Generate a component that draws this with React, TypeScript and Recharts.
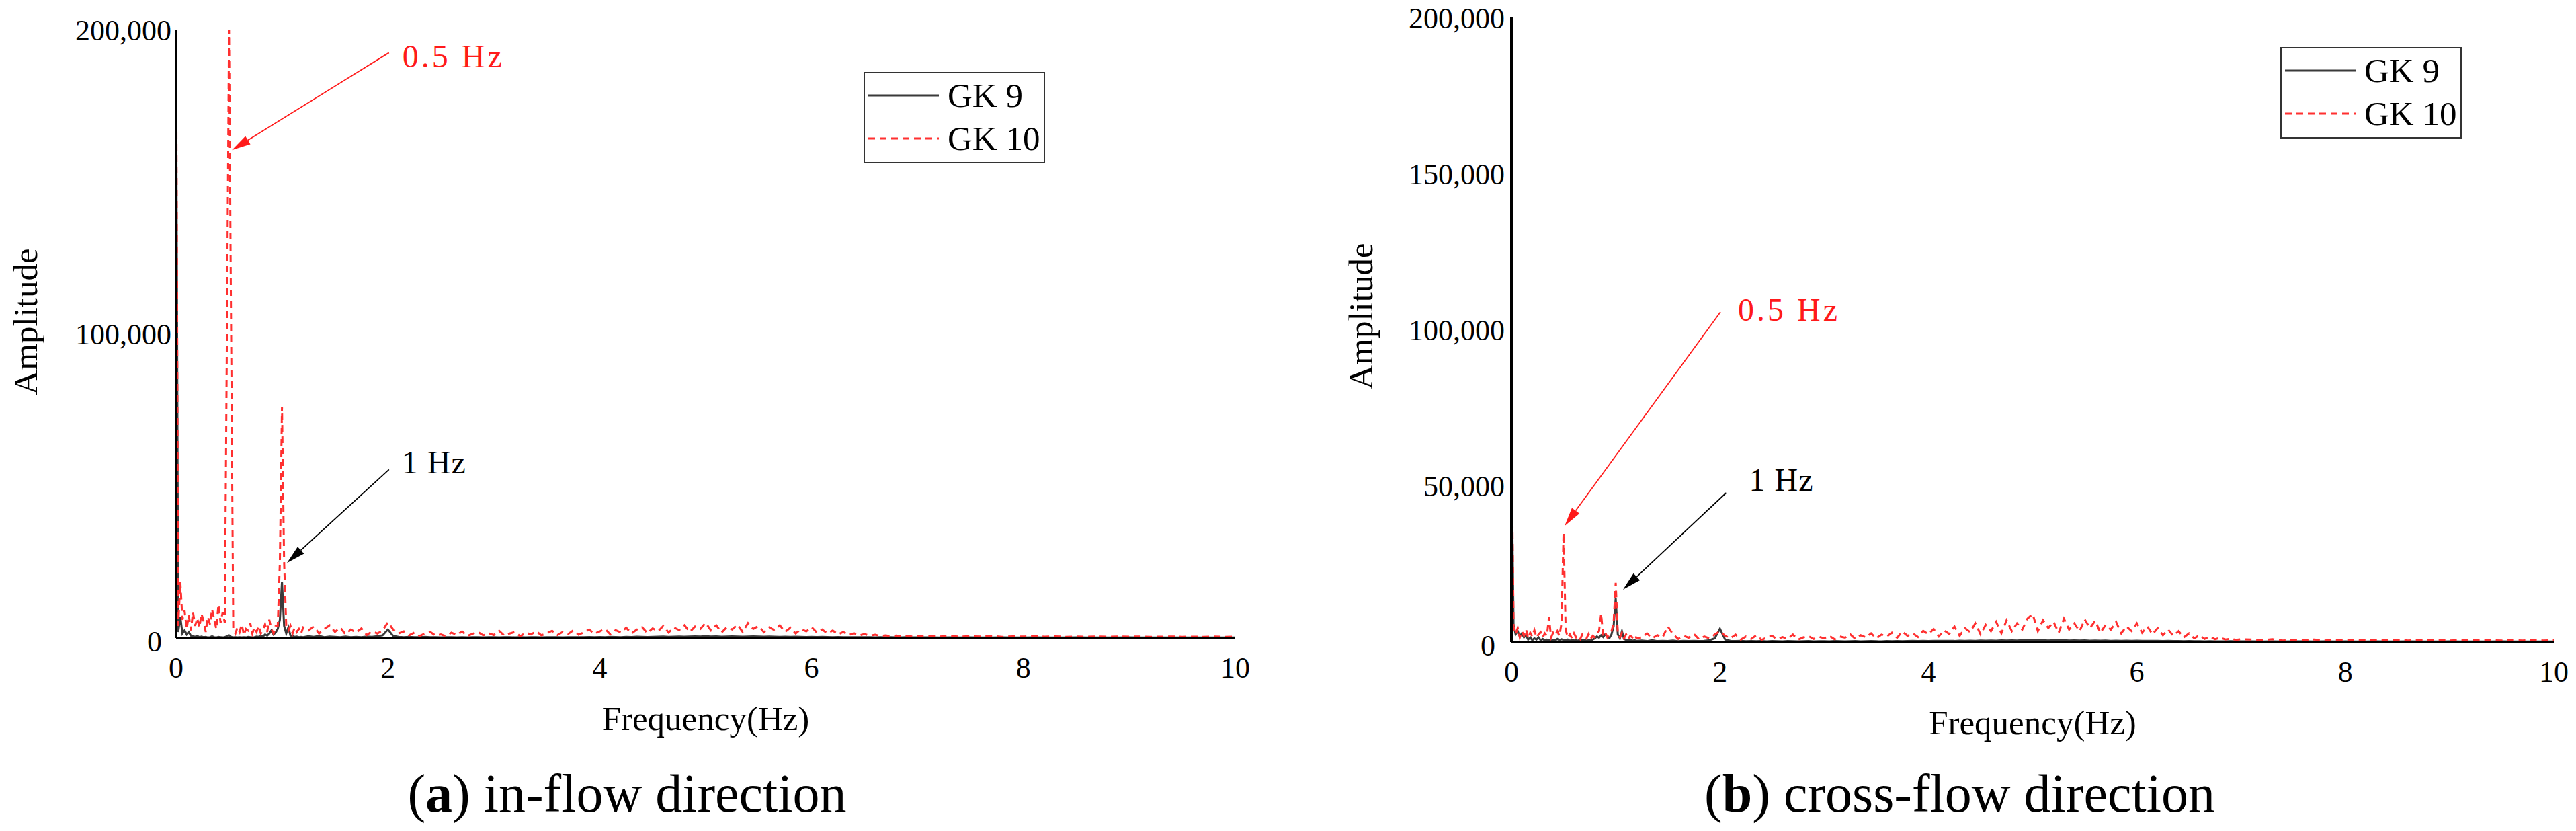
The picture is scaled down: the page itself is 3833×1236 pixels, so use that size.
import { LineChart, Line, XAxis, YAxis, Legend, ReferenceLine } from 'recharts';

const FONT = '"Liberation Serif", "Times New Roman", serif';

// frequency grid (Hz): finer near the low-frequency peaks, coarser at the tail
const grid = (start: number, step: number, count: number) =>
  Array.from({ length: count }, (_, i) => Math.round((start + i * step) * 100) / 100);
const freqLow = grid(0, 0.02, 61); // 0 .. 1.2
const freqMid = grid(1.25, 0.05, 116); // 1.25 .. 7.0
const freqHigh = grid(7.1, 0.1, 30); // 7.1 .. 10
const frequencies = [...freqLow, ...freqMid, ...freqHigh];

const xTicks = [0, 2, 4, 6, 8, 10];
const inflowTicks = [0, 100000, 200000];
const crossTicks = [0, 50000, 100000, 150000, 200000];

// (a) in-flow direction
const inflowGK9Low = [
  190000, 2000, 7000, 1500, 2500, 1200, 2000, 800, 600, 400,
  700, 300, 500, 300, 400, 200, 300, 600, 300, 200,
  400, 300, 200, 300, 600, 900, 400, 200, 300, 200,
  300, 200, 300, 200, 400, 300, 200, 300, 500, 400,
  700, 500, 1200, 800, 1500, 2500, 1200, 1800, 3000, 6000,
  18500, 4000, 1500, 3500, 800, 600, 400, 500, 300, 400,
  300,
];
const inflowGK9Mid = [
  600, 400, 700, 300, 500, 400, 300, 500, 300, 400, 300, 500, 400, 600, 900,
  2800,
  700, 400, 300, 400, 250, 300, 400, 250, 300, 200, 300, 250, 200, 300, 200, 250, 300, 200, 250,
  300, 200, 250, 300, 200, 250, 200, 300, 250, 200, 300, 250, 300, 200, 250, 300, 250, 300, 350, 300,
  350, 300, 400, 350, 300, 400, 350, 450, 400, 350, 400, 450, 500, 400, 450, 500, 450, 500, 550, 500,
  600, 500, 550, 450, 500, 550, 500, 450, 500, 550, 500, 450, 500, 450, 400, 450, 400, 450, 400, 350,
  400, 350, 400, 350, 300, 350, 300, 250, 300, 250, 300, 250, 200, 250, 200, 250, 200, 200, 250, 200, 200,
];
const inflowGK9High = [
  200, 150, 200, 150, 200, 150, 150, 200, 150, 150, 200, 150, 150, 150, 200,
  150, 150, 150, 150, 200, 150, 150, 150, 150, 150, 150, 150, 150, 150, 150,
];
const inflowGK10Low = [
  200000, 4000, 18500, 6000, 9000, 3000, 7500, 2500, 8500, 4000,
  6500, 3500, 8000, 5500, 2000, 7000, 4500, 9500, 6000, 3000,
  11000, 5000, 8500, 5000, 100000, 200000, 100000, 3000, 1500, 3500,
  2000, 4500, 1000, 3000, 2500, 5000, 1500, 3500, 2000, 4000,
  1500, 2500, 4500, 2000, 6000, 3000, 1500, 4000, 4000, 25000,
  76000, 25000, 4000, 2500, 4000, 1500, 3500, 2000, 3000, 1500,
  3500,
];
const inflowGK10Mid = [
  2500, 3800, 1500, 3000, 4200, 2000, 3500, 1200, 2800, 1800, 3200, 1000, 2200, 1500, 2500,
  5200,
  2800, 1500, 2200, 900, 1800, 700, 1500, 2000, 800, 1200, 600, 1800, 1000, 2200, 700, 1400, 2000, 900, 1600,
  1000, 2400, 800, 1500, 2000, 600, 1800, 1200, 2200, 900, 1600, 2400, 1000, 2000, 1300, 2500, 1100, 1900, 2800, 1400,
  2200, 3000, 1200, 2600, 1800, 3400, 1500, 2800, 3600, 1600, 3200, 2200, 4000, 1800, 3500, 2600, 4200, 2000, 3800, 3000,
  5000, 2500, 4200, 1800, 3600, 2800, 4400, 2000, 4900, 3000, 4000, 1900, 3500, 2600, 4200, 2000, 3400, 1500, 3000, 2200,
  3600, 1800, 2800, 1500, 2500, 1200, 2000, 1000, 1600, 900, 1300, 800, 1100, 700, 900, 600, 800, 500, 700, 500, 600,
];
const inflowGK10High = [
  600, 500, 700, 450, 600, 500, 650, 400, 550, 500, 600, 450, 550, 400, 500,
  450, 550, 400, 500, 450, 500, 400, 450, 500, 400, 450, 400, 500, 400, 450,
];

// (b) cross-flow direction
const crossGK9Low = [
  60000, 5500, 2500, 3500, 1800, 2800, 1500, 2200, 800, 1500,
  600, 1200, 800, 1500, 600, 1000, 500, 800, 600, 400,
  700, 500, 1000, 600, 900, 700, 500, 800, 400, 700,
  500, 600, 400, 800, 500, 700, 400, 600, 500, 800,
  1200, 1800, 1400, 2200, 1600, 2500, 1800, 1300, 2500, 5000,
  14000, 2500, 1200, 3500, 1000, 700, 500, 800, 400, 600,
  400,
];
const crossGK9Mid = [
  500, 300, 600, 300, 400, 300, 500, 250, 400, 300, 350, 300, 400, 600, 1200,
  4300,
  800, 400, 300, 350, 250, 300, 250, 300, 200, 300, 250, 200, 300, 250, 200, 250, 300, 200, 250,
  250, 200, 300, 250, 200, 250, 300, 200, 250, 300, 250, 200, 300, 250, 300, 250, 300, 350, 300, 350,
  300, 350, 400, 350, 400, 350, 450, 400, 450, 400, 500, 450, 500, 450, 550, 500, 550, 500, 600, 550,
  650, 550, 600, 500, 600, 550, 600, 500, 550, 500, 550, 450, 500, 450, 500, 400, 450, 400, 450, 400,
  450, 400, 350, 400, 350, 300, 350, 300, 300, 250, 300, 250, 250, 200, 250, 200, 200, 200, 250, 200, 200,
];
const crossGK9High = [
  200, 150, 200, 150, 200, 200, 150, 200, 150, 200, 150, 150, 200, 150, 150,
  200, 150, 150, 150, 200, 150, 150, 150, 150, 200, 150, 150, 150, 150, 150,
];
const crossGK10Low = [
  68000, 5000, 2500, 4500, 1500, 3500, 2000, 4000, 1200, 3000,
  1800, 3800, 1500, 2500, 3200, 1500, 2800, 2000, 8000, 1500,
  3000, 2200, 3500, 2000, 6000, 35000, 4000, 1500, 2500, 1200,
  2800, 1500, 2200, 1000, 2500, 1800, 1200, 2600, 1000, 2000,
  1500, 2800, 3500, 9000, 2000, 3000, 1500, 2500, 3500, 6000,
  19000, 3000, 1500, 3000, 1200, 2500, 1000, 2000, 1500, 2400,
  1200,
];
const crossGK10Mid = [
  1500, 2800, 1200, 2200, 1500, 5000, 2500, 1000, 2000, 1400, 2600, 900, 1800, 1200, 2400,
  3500,
  2000, 1200, 2400, 800, 1800, 1000, 2200, 700, 1500, 2000, 900, 1600, 1100, 2400, 800, 1500, 1900, 1000, 1700,
  1200, 2000, 900, 1800, 1400, 2500, 1000, 2200, 1500, 2800, 1200, 2400, 1800, 3000, 1400, 3400, 2000, 2800, 1600, 3600,
  2500, 4200, 1800, 3800, 2600, 5000, 2000, 4500, 3200, 6000, 2500, 5500, 3500, 6500, 2800, 7000, 3500, 6000, 4000, 7500,
  9000, 3500, 7000, 4500, 6500, 3000, 7500, 4000, 6000, 3500, 7200, 4500, 6800, 3000, 5500, 4000, 6500, 2800, 5000, 3500,
  6000, 3000, 5000, 2500, 4500, 2200, 4000, 2000, 3500, 1500, 2800, 1200, 2200, 1000, 1800, 900, 1400, 800, 1100, 700, 900,
];
const crossGK10High = [
  800, 600, 900, 500, 700, 600, 800, 500, 700, 600, 750, 500, 650, 550, 700,
  500, 600, 550, 650, 500, 600, 500, 550, 600, 500, 550, 500, 600, 500, 550,
];

const buildRows = (gk9: number[], gk10: number[]) =>
  frequencies.map((f, i) => ({ f, gk9: gk9[i], gk10: gk10[i] }));

const inflowRows = buildRows(
  [...inflowGK9Low, ...inflowGK9Mid, ...inflowGK9High],
  [...inflowGK10Low, ...inflowGK10Mid, ...inflowGK10High],
);
const crossRows = buildRows(
  [...crossGK9Low, ...crossGK9Mid, ...crossGK9High],
  [...crossGK10Low, ...crossGK10Mid, ...crossGK10High],
);

const seriesStyle = [
  { key: 'gk9', name: 'GK 9', color: '#3a3a3a', dash: undefined as string | undefined },
  { key: 'gk10', name: 'GK 10', color: '#ff3030', dash: '10 7' },
];

// arrow annotations, in data units (Hz, amplitude)
const inflowNotes = [
  { label: '0.5 Hz', color: '#ff1a1a', from: [2.01, 192400], to: [0.527, 160400], dx: 20, dy: 5, spacing: 4 },
  { label: '1 Hz', color: '#000', from: [2.01, 55400], to: [1.047, 24700], dx: 19, dy: -11, spacing: 1 },
];
const crossNotes = [
  { label: '0.5 Hz', color: '#ff1a1a', from: [2.005, 105700], to: [0.51, 37200], dx: 26, dy: -4, spacing: 4 },
  { label: '1 Hz', color: '#000', from: [2.06, 47800], to: [1.07, 16800], dx: 34, dy: -20, spacing: 1 },
];

type Note = (typeof inflowNotes)[number];

const arrowShape = (n: Note) => (props: any) => {
  const { x1, y1, x2, y2 } = props;
  const ang = Math.atan2(y2 - y1, x2 - x1);
  const c = Math.cos(ang);
  const s = Math.sin(ang);
  const len = 28;
  const half = 7;
  const bx = x2 - len * c;
  const by = y2 - len * s;
  const pts = `${x2},${y2} ${bx - half * s},${by + half * c} ${bx + half * s},${by - half * c}`;
  return (
    <g>
      <line x1={x1} y1={y1} x2={bx} y2={by} stroke={n.color} strokeWidth={1.8} />
      <polygon points={pts} fill={n.color} />
      <text
        x={x1 + n.dx}
        y={y1 + n.dy}
        dy="0.35em"
        fill={n.color}
        fontSize={48}
        fontFamily={FONT}
        letterSpacing={n.spacing}
      >
        {n.label}
      </text>
    </g>
  );
};

const AmpTick = ({ x, y, payload }: any) => {
  const zero = payload.value === 0;
  return (
    <text
      x={x + (zero ? -14 : 0)}
      y={y + (zero ? 4 : 0)}
      dy="0.355em"
      textAnchor="end"
      fill="#000"
      fontSize={44}
      fontFamily={FONT}
    >
      {payload.value.toLocaleString('en-US')}
    </text>
  );
};

const LegendBox = () => (
  <div
    style={{
      width: 270,
      height: 136,
      border: '2px solid #333',
      boxSizing: 'border-box',
      background: '#fff',
      position: 'relative',
    }}
  >
    {seriesStyle.map((s, i) => (
      <div
        key={s.key}
        style={{ position: 'absolute', left: 5, top: 5 + i * 64, height: 56, display: 'flex', alignItems: 'center' }}
      >
        <svg width={105} height={10}>
          <line x1={0} y1={5} x2={105} y2={5} stroke={s.color} strokeWidth={3} strokeDasharray={s.dash} />
        </svg>
        <span style={{ marginLeft: 13, fontSize: 51, fontFamily: FONT, lineHeight: '56px', color: '#000' }}>
          {s.name}
        </span>
      </div>
    ))}
  </div>
);

type PanelCfg = {
  left: number;
  width: number;
  top: number;
  right: number;
  bottom: number;
  yAxisWidth: number;
  tickMargin: number;
  ampX: number;
  ampDy: number;
  legendLeft: number;
  legendTop: number;
};

const Panel = ({ cfg, rows, yTicks, notes }: { cfg: PanelCfg; rows: any[]; yTicks: number[]; notes: Note[] }) => (
  <LineChart
    width={cfg.width}
    height={1236}
    data={rows}
    margin={{ top: cfg.top, right: cfg.right, bottom: cfg.bottom, left: 0 }}
    style={{ position: 'absolute', left: cfg.left, top: 0 }}
  >
    <XAxis
      dataKey="f"
      type="number"
      domain={[0, 10]}
      ticks={xTicks}
      height={150}
      axisLine={{ stroke: '#000', strokeWidth: 4 }}
      tickLine={false}
      tickSize={0}
      tickMargin={28}
      tick={{ fill: '#000', fontSize: 44, fontFamily: FONT }}
      label={{
        content: (p: any) => (
          <text
            x={p.viewBox.x + p.viewBox.width / 2}
            y={p.viewBox.y + 137}
            textAnchor="middle"
            fill="#000"
            fontSize={51}
            fontFamily={FONT}
          >
            Frequency(Hz)
          </text>
        ),
      }}
    />
    <YAxis
      type="number"
      domain={[0, 200000]}
      ticks={yTicks}
      width={cfg.yAxisWidth}
      axisLine={{ stroke: '#000', strokeWidth: 4 }}
      tickLine={false}
      tickSize={0}
      tickMargin={cfg.tickMargin}
      tick={(p: any) => <AmpTick {...p} />}
      label={{
        content: (p: any) => {
          const x = p.viewBox.x + cfg.ampX;
          const y = p.viewBox.y + p.viewBox.height / 2 + cfg.ampDy;
          return (
            <text
              x={x}
              y={y}
              transform={`rotate(-90 ${x} ${y})`}
              textAnchor="middle"
              dominantBaseline="central"
              fill="#000"
              fontSize={51}
              fontFamily={FONT}
            >
              Amplitude
            </text>
          );
        },
      }}
    />
    <Legend
      layout="vertical"
      align="center"
      verticalAlign="middle"
      wrapperStyle={{ left: cfg.legendLeft, top: cfg.legendTop, width: 270 }}
      content={() => <LegendBox />}
    />
    {seriesStyle.map((s) => (
      <Line
        key={s.key}
        type="linear"
        dataKey={s.key}
        name={s.name}
        stroke={s.color}
        strokeWidth={3}
        strokeDasharray={s.dash}
        dot={false}
        activeDot={false}
        isAnimationActive={false}
      />
    ))}
    {notes.map((n) => (
      <ReferenceLine
        key={n.label}
        segment={[
          { x: n.from[0], y: n.from[1] },
          { x: n.to[0], y: n.to[1] },
        ]}
        shape={arrowShape(n)}
      />
    ))}
  </LineChart>
);

const inflowCfg: PanelCfg = {
  left: 0, width: 1900, top: 44, right: 62, bottom: 137, yAxisWidth: 262, tickMargin: 7,
  ampX: 38, ampDy: -18, legendLeft: 1285, legendTop: 107,
};
const crossCfg: PanelCfg = {
  left: 1900, width: 1933, top: 26, right: 33, bottom: 131, yAxisWidth: 349, tickMargin: 10,
  ampX: 125, ampDy: -20, legendLeft: 1493, legendTop: 70,
};

const Caption = ({ center, letter, text }: { center: number; letter: string; text: string }) => (
  <div
    style={{
      position: 'absolute',
      left: center - 600,
      width: 1200,
      top: 1140,
      textAlign: 'center',
      fontFamily: FONT,
      fontSize: 80,
      lineHeight: '80px',
      color: '#000',
    }}
  >
    (<b>{letter}</b>) {text}
  </div>
);

const App = () => (
  <div style={{ position: 'absolute', left: 0, top: 0, width: 3833, height: 1236, background: '#fff', overflow: 'hidden' }}>
    <Panel cfg={inflowCfg} rows={inflowRows} yTicks={inflowTicks} notes={inflowNotes} />
    <Panel cfg={crossCfg} rows={crossRows} yTicks={crossTicks} notes={crossNotes} />
    <Caption center={933} letter="a" text="in-flow direction" />
    <Caption center={2916} letter="b" text="cross-flow direction" />
  </div>
);

export default App;
